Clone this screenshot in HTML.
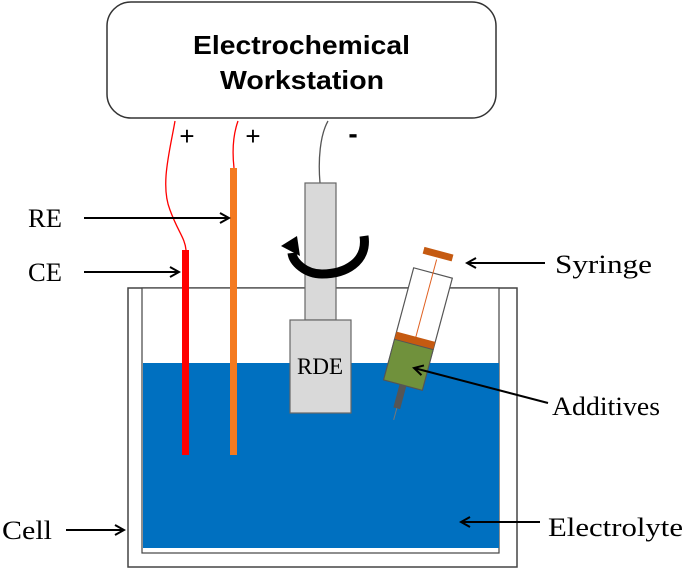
<!DOCTYPE html>
<html><head><meta charset="utf-8"><style>body{margin:0;background:#fff}svg{display:block}</style></head>
<body>
<svg width="685" height="571" viewBox="0 0 685 571" xmlns="http://www.w3.org/2000/svg" font-family="Liberation Serif, serif">
<defs><marker id="ah" markerWidth="12" markerHeight="12" refX="10" refY="6" orient="auto" markerUnits="userSpaceOnUse"><path d="M1,1 L10,6 L1,11" fill="none" stroke="#000" stroke-width="2"/></marker></defs>
<rect x="107" y="2" width="389" height="116" rx="24" fill="#fff" stroke="#333" stroke-width="1.5"/>
<text x="193" y="54" textLength="217" lengthAdjust="spacingAndGlyphs" font-family="Liberation Sans, sans-serif" font-weight="bold" font-size="26">Electrochemical</text>
<text x="220" y="89" textLength="164" lengthAdjust="spacingAndGlyphs" font-family="Liberation Sans, sans-serif" font-weight="bold" font-size="26">Workstation</text>
<text x="187" y="145" text-anchor="middle" font-family="Liberation Sans, sans-serif" font-size="26">+</text>
<text x="253" y="145" text-anchor="middle" font-family="Liberation Sans, sans-serif" font-size="26">+</text>
<text x="353" y="143" text-anchor="middle" font-family="Liberation Sans, sans-serif" font-weight="bold" font-size="28">-</text>
<!-- cell -->
<rect x="128" y="288" width="389" height="279" fill="#fff" stroke="#444" stroke-width="1.5"/>
<rect x="142" y="288" width="357" height="265" fill="#fff" stroke="#444" stroke-width="1.2"/>
<rect x="143" y="363" width="356" height="185" fill="#0070c0"/>
<line x1="142" y1="363" x2="142" y2="548" stroke="#444"/>
<!-- wires -->
<path d="M175,121 C170,150 160,185 170,210 C178,232 185,238 186,250" fill="none" stroke="#f00" stroke-width="1.3"/>
<path d="M238,121 C233,135 232,150 234,168" fill="none" stroke="#f00" stroke-width="1.3"/>
<path d="M328,121 C320,135 318,160 320,183" fill="none" stroke="#555" stroke-width="1.3"/>
<!-- rods -->
<rect x="182" y="250" width="7" height="205" fill="#f00"/>
<rect x="230" y="168" width="7" height="287" fill="#f47a20"/>
<!-- RDE -->
<rect x="305" y="183" width="31" height="137" fill="#d9d9d9" stroke="#666" stroke-width="1.2"/>
<rect x="290" y="320" width="61" height="93" fill="#d9d9d9" stroke="#666" stroke-width="1.2"/>
<text x="320" y="374" text-anchor="middle" font-size="23">RDE</text>
<path d="M364,236 C368,262 345,274 322,274 C305,274 293,262 292,253" fill="none" stroke="#000" stroke-width="9"/>
<polygon points="281,246 297,236 300,256" fill="#000"/>
<!-- syringe -->
<g transform="translate(433,273) rotate(15)">
<rect x="-20" y="0" width="40" height="116" fill="#fff" stroke="#555" stroke-width="1.2"/>
<line x1="0" y1="-14" x2="0" y2="68" stroke="#e06020" stroke-width="1"/>
<rect x="-15" y="-23" width="30" height="7" fill="#c55a11"/>
<rect x="-20" y="66" width="40" height="8" fill="#c55a11"/>
<rect x="-20" y="74" width="40" height="42" fill="#70913c" stroke="#555" stroke-width="1"/>
<rect x="-3.5" y="116" width="7" height="24" fill="#555"/>
<line x1="0" y1="140" x2="0" y2="152" stroke="#777" stroke-width="1"/>
</g>
<!-- arrows -->
<g stroke="#000" stroke-width="2" marker-end="url(#ah)">
<line x1="84" y1="218" x2="229" y2="218"/>
<line x1="84" y1="272" x2="179" y2="272"/>
<line x1="545" y1="263" x2="467" y2="263"/>
<line x1="548" y1="403" x2="414" y2="368"/>
<line x1="540" y1="522" x2="461" y2="522"/>
<line x1="66" y1="530" x2="124" y2="530"/>
</g>
<g font-size="26" lengthAdjust="spacingAndGlyphs">
<text x="28" y="227" textLength="34" lengthAdjust="spacingAndGlyphs">RE</text>
<text x="28" y="281" textLength="34" lengthAdjust="spacingAndGlyphs">CE</text>
<text x="555" y="273" textLength="97" lengthAdjust="spacingAndGlyphs">Syringe</text>
<text x="552" y="415" textLength="108" lengthAdjust="spacingAndGlyphs">Additives</text>
<text x="548" y="536" textLength="135" lengthAdjust="spacingAndGlyphs">Electrolyte</text>
<text x="2" y="539" textLength="50" lengthAdjust="spacingAndGlyphs">Cell</text>
</g>
</svg>
</body></html>
